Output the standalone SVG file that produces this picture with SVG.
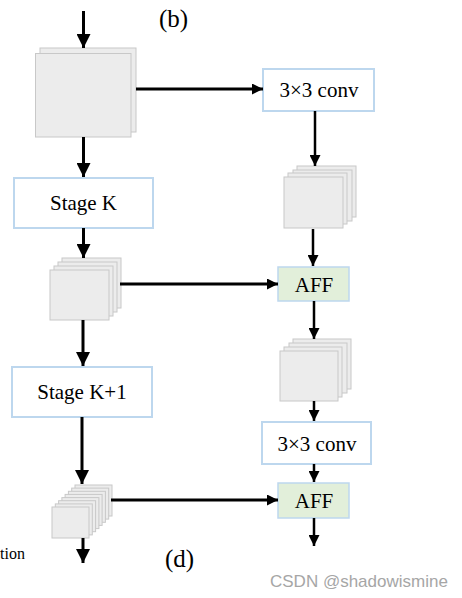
<svg xmlns="http://www.w3.org/2000/svg" width="462" height="598" viewBox="0 0 462 598">
<style>
.fm{fill:#ececec;stroke:#c8c8c8;stroke-width:1}
.box{fill:#ffffff;stroke:#bdd7ee;stroke-width:2}
.aff{fill:#e2efda;stroke:#bdd7ee;stroke-width:1.5}
.t{font-family:"Liberation Serif","Times New Roman",serif;font-size:21px;fill:#000;text-anchor:middle}
.lbl{font-family:"Liberation Serif","Times New Roman",serif;font-size:25px;fill:#000}
.sm{font-family:"Liberation Serif","Times New Roman",serif;font-size:16px;fill:#000}
.wm{font-family:"Liberation Sans",Arial,sans-serif;font-size:17px;fill:#a6a6a6}
.wl{stroke:#000;stroke-width:3;fill:none}
.nl{stroke:#000;stroke-width:2.5;fill:none}
</style>
<defs>
<marker id="big" markerUnits="userSpaceOnUse" markerWidth="14" markerHeight="14" refX="14" refY="7" orient="auto"><path d="M0,0 L14,7 L0,14 z" fill="#000"/></marker>
<marker id="sm" markerUnits="userSpaceOnUse" markerWidth="11" markerHeight="11" refX="11" refY="5.5" orient="auto"><path d="M0,0 L11,5.5 L0,11 z" fill="#000"/></marker>
</defs>
<rect width="462" height="598" fill="#fff"/>
<text class="lbl" x="159" y="27">(b)</text>
<text class="lbl" x="165" y="567">(d)</text>
<text class="sm" x="0" y="559">tion</text>
<g id="feat1">
<rect class="fm" x="40" y="48" width="96" height="84"/>
<rect class="fm" x="35.5" y="53.5" width="95.5" height="83.5"/>
</g>
<g id="stageK">
<rect class="box" x="14" y="178" width="139" height="50"/>
<text class="t" x="83.5" y="210">Stage K</text>
</g>
<g id="feat2">
<rect class="fm" x="62" y="258" width="59" height="50"/>
<rect class="fm" x="58" y="262" width="59" height="50"/>
<rect class="fm" x="54" y="266" width="59" height="50"/>
<rect class="fm" x="50" y="270" width="59" height="50"/>
</g>
<g id="stageK1">
<rect class="box" x="12" y="367" width="140" height="50"/>
<text class="t" x="82" y="399">Stage K+1</text>
</g>
<g id="feat3">
<rect class="fm" x="75" y="485" width="37" height="31"/>
<rect class="fm" x="71.7" y="488.1" width="37" height="31"/>
<rect class="fm" x="68.4" y="491.3" width="37" height="31"/>
<rect class="fm" x="65.1" y="494.4" width="37" height="31"/>
<rect class="fm" x="61.9" y="497.6" width="37" height="31"/>
<rect class="fm" x="58.6" y="500.7" width="37" height="31"/>
<rect class="fm" x="55.3" y="503.9" width="37" height="31"/>
<rect class="fm" x="52" y="507" width="37" height="31"/>
</g>
<g id="conv1">
<rect class="box" x="263" y="69" width="111" height="42"/>
<text class="t" x="319" y="97">3×3 conv</text>
</g>
<g id="feat4">
<rect class="fm" x="297" y="166" width="59" height="51"/>
<rect class="fm" x="293" y="170" width="59" height="51"/>
<rect class="fm" x="288" y="173" width="59" height="51"/>
<rect class="fm" x="284" y="177" width="59" height="51"/>
</g>
<g id="aff1">
<rect class="aff" x="278" y="267" width="71" height="34"/>
<text class="t" x="314" y="291.5">AFF</text>
</g>
<g id="feat5">
<rect class="fm" x="293" y="339" width="58" height="50"/>
<rect class="fm" x="289" y="343" width="58" height="50"/>
<rect class="fm" x="284" y="347" width="58" height="50"/>
<rect class="fm" x="280" y="351" width="58" height="50"/>
</g>
<g id="conv2">
<rect class="box" x="262" y="422" width="109" height="42"/>
<text class="t" x="317" y="450.5">3×3 conv</text>
</g>
<g id="aff2">
<rect class="aff" x="278" y="483" width="71" height="35"/>
<text class="t" x="314" y="508">AFF</text>
</g>
<g id="connectors">
<path class="wl" d="M83.5,11 V48" marker-end="url(#big)"/>
<path class="wl" d="M83.5,137 V177" marker-end="url(#big)"/>
<path class="wl" d="M83.5,228 V258" marker-end="url(#big)"/>
<path class="wl" d="M83,320 V366" marker-end="url(#big)"/>
<path class="wl" d="M82,417 V484" marker-end="url(#big)"/>
<path class="wl" d="M83,538 V563" marker-end="url(#big)"/>
<path class="wl" d="M136,89 H263" marker-end="url(#sm)"/>
<path class="wl" d="M120,284 H278" marker-end="url(#sm)"/>
<path class="wl" d="M111,500 H278" marker-end="url(#sm)"/>
<path class="nl" d="M315,111 V166" marker-end="url(#sm)"/>
<path class="nl" d="M313,229 V266" marker-end="url(#sm)"/>
<path class="nl" d="M314,301 V339" marker-end="url(#sm)"/>
<path class="nl" d="M314,401 V421" marker-end="url(#sm)"/>
<path class="nl" d="M314,464 V482" marker-end="url(#sm)"/>
<path class="nl" d="M314,518 V546" marker-end="url(#sm)"/>
</g>
<text class="wm" x="270" y="587">CSDN @shadowismine</text>
</svg>
